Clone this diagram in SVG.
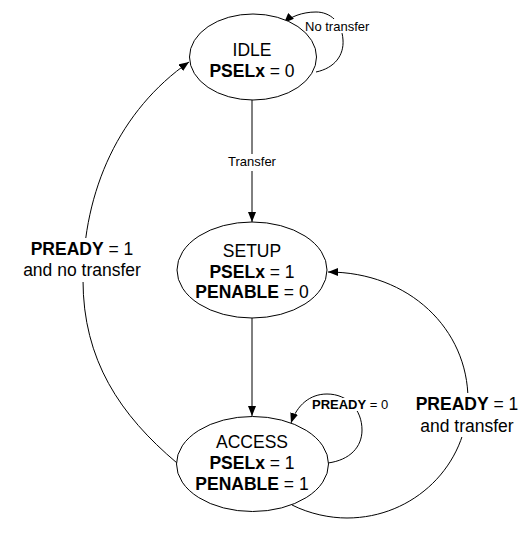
<svg xmlns="http://www.w3.org/2000/svg" width="529" height="542" viewBox="0 0 529 542">
<style>
.node{fill:#fff;stroke:#000;stroke-width:1}
.edge{fill:none;stroke:#000;stroke-width:1}
.t{font-family:"Liberation Sans",Arial,sans-serif;fill:#000;text-anchor:middle}
.big{font-size:17.5px}
.small{font-size:13px}
.b{font-weight:bold}
.bg{fill:#fff;stroke:none}
</style>
<defs>
<marker id="arr" markerUnits="userSpaceOnUse" markerWidth="10" markerHeight="8" refX="10" refY="4" orient="auto">
<path d="M0,0 L10,4 L0,8 z" fill="#000"/>
</marker>
</defs>
<rect width="529" height="542" fill="#fff"/>
<g id="connectors">
<g id="idle-setup">
<path class="edge" d="M252,100 L252,222" marker-end="url(#arr)"/>
<rect class="bg" x="226" y="154" width="52" height="17"/>
<text class="t small" x="252" y="166">Transfer</text>
</g>
<g id="setup-access">
<path class="edge" d="M252,318 L252,416" marker-end="url(#arr)"/>
</g>
<g id="idle-loop">
<path class="edge" d="M316,72 C335,68 344,55 343,40 C342,22 330,12 316,12 C302,12 290,17 284,23" marker-end="url(#arr)"/>
<rect class="bg" x="304" y="19" width="68" height="14"/>
<text class="t small" x="305" y="31" style="text-anchor:start">No transfer</text>
</g>
<g id="access-loop">
<path class="edge" d="M328,463 C350,460 362,447 362,430 C362,410 348,394 327,394 C310,394 297,405 291,423" marker-end="url(#arr)"/>
<rect class="bg" x="311" y="398" width="80" height="13"/>
<text class="t small" x="312" y="409" style="text-anchor:start"><tspan class="b">PREADY</tspan> = 0</text>
</g>
<g id="access-setup">
<path class="edge" d="M292,505 C310,514 330,518 347,518 C414,518 468,465 468,400 C468,329 409,272 328,272" marker-end="url(#arr)"/>
<rect class="bg" x="413" y="393" width="108" height="44"/>
<text class="t big" x="467" y="410"><tspan class="b">PREADY</tspan> = 1</text>
<text class="t big" x="467" y="432">and transfer</text>
</g>
<g id="access-idle">
<path class="edge" d="M177,463 C120,415 83,360 83,280 C83,190 120,110 189,62" marker-end="url(#arr)"/>
<rect class="bg" x="20" y="238" width="124" height="44"/>
<text class="t big" x="82" y="255"><tspan class="b">PREADY</tspan> = 1</text>
<text class="t big" x="82" y="276">and no transfer</text>
</g>
</g>
<g id="IDLE">
<ellipse class="node" cx="253" cy="57" rx="63.5" ry="43"/>
<text class="t big" x="252" y="56">IDLE</text>
<text class="t big" x="252" y="77"><tspan class="b">PSELx</tspan> = 0</text>
</g>
<g id="SETUP">
<ellipse class="node" cx="252" cy="270" rx="75" ry="48"/>
<text class="t big" x="252" y="257">SETUP</text>
<text class="t big" x="252" y="278"><tspan class="b">PSELx</tspan> = 1</text>
<text class="t big" x="252" y="298"><tspan class="b">PENABLE</tspan> = 0</text>
</g>
<g id="ACCESS">
<ellipse class="node" cx="252.5" cy="464" rx="76" ry="47.5"/>
<text class="t big" x="252" y="448">ACCESS</text>
<text class="t big" x="252" y="469"><tspan class="b">PSELx</tspan> = 1</text>
<text class="t big" x="252" y="490"><tspan class="b">PENABLE</tspan> = 1</text>
</g>
</svg>
